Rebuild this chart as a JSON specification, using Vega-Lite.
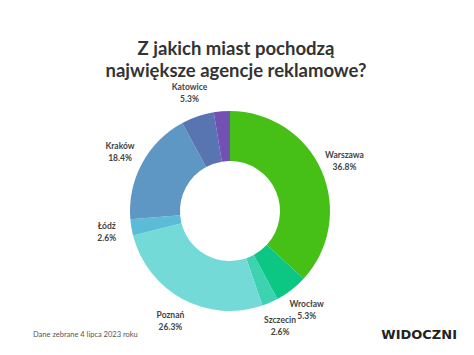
{
  "$schema": "https://vega.github.io/schema/vega-lite/v6.json",
  "padding": {"top": 39, "left": 33, "right": 0, "bottom": 0},
  "background": "white",
  "config": {"view": {"stroke": null}, "concat": {"spacing": 0}},
  "title": {
    "text": ["Z jakich miast pochodzą", "największe agencje reklamowe?"],
    "anchor": "middle",
    "frame": "group",
    "font": "Lato",
    "fontSize": 18.5,
    "fontWeight": "bold",
    "color": "#333333",
    "lineHeight": 22,
    "offset": -4,
    "dx": 6
  },
  "vconcat": [
    {
      "title": {
        "text": "WIDOCZNI",
        "orient": "bottom",
        "anchor": "end",
        "font": "DejaVu Sans",
        "fontSize": 13,
        "fontWeight": "bold",
        "color": "#222222",
        "offset": 0,
        "dx": 30,
        "dy": -10
      },
      "vconcat": [
        {
          "title": {
            "text": "Dane zebrane 4 lipca 2023 roku",
            "orient": "bottom",
            "anchor": "start",
            "frame": "group",
            "font": "Lato",
            "fontSize": 7.5,
            "fontWeight": "normal",
            "color": "#555555",
            "offset": 2,
            "dy": -7
          },
          "width": 394,
          "height": 230,
          "data": {
            "values": [
              {"city": "Warszawa", "share": 0.368, "i": 1},
              {"city": "Wrocław", "share": 0.053, "i": 2},
              {"city": "Szczecin", "share": 0.026, "i": 3},
              {"city": "Poznań", "share": 0.263, "i": 4},
              {"city": "Łódź", "share": 0.026, "i": 5},
              {"city": "Kraków", "share": 0.184, "i": 6},
              {"city": "Katowice", "share": 0.053, "i": 7},
              {"city": "Inne", "share": 0.026, "i": 8}
            ]
          },
          "layer": [
            {
              "mark": {"type": "arc", "outerRadius": 100, "innerRadius": 50},
              "encoding": {
                "theta": {"field": "share", "type": "quantitative", "stack": true},
                "order": {"field": "i", "type": "quantitative"},
                "color": {
                  "field": "city",
                  "type": "nominal",
                  "legend": null,
                  "scale": {
                    "domain": ["Warszawa", "Wrocław", "Szczecin", "Poznań", "Łódź", "Kraków", "Katowice", "Inne"],
                    "range": ["#46c016", "#0cc784", "#3dd3b0", "#74dad8", "#5cbcd8", "#5e97c4", "#5874b1", "#7251b3"]
                  }
                }
              }
            },
            {
              "mark": {"type": "text", "radius": 125, "dy": -6, "font": "Lato", "fontSize": 8.5, "fontWeight": "bold", "color": "#444444"},
              "encoding": {
                "theta": {"field": "share", "type": "quantitative", "stack": true},
                "order": {"field": "i", "type": "quantitative"},
                "detail": {"field": "city", "type": "nominal"},
                "text": {"condition": {"test": "datum.city === 'Inne'", "value": ""}, "field": "city", "type": "nominal"}
              }
            },
            {
              "mark": {"type": "text", "radius": 125, "dy": 6, "font": "Lato", "fontSize": 8.5, "fontWeight": "bold", "color": "#444444"},
              "encoding": {
                "theta": {"field": "share", "type": "quantitative", "stack": true},
                "order": {"field": "i", "type": "quantitative"},
                "detail": {"field": "city", "type": "nominal"},
                "text": {"condition": {"test": "datum.city === 'Inne'", "value": ""}, "field": "share", "type": "quantitative", "format": ".1%"}
              }
            }
          ]
        }
      ]
    }
  ]
}
